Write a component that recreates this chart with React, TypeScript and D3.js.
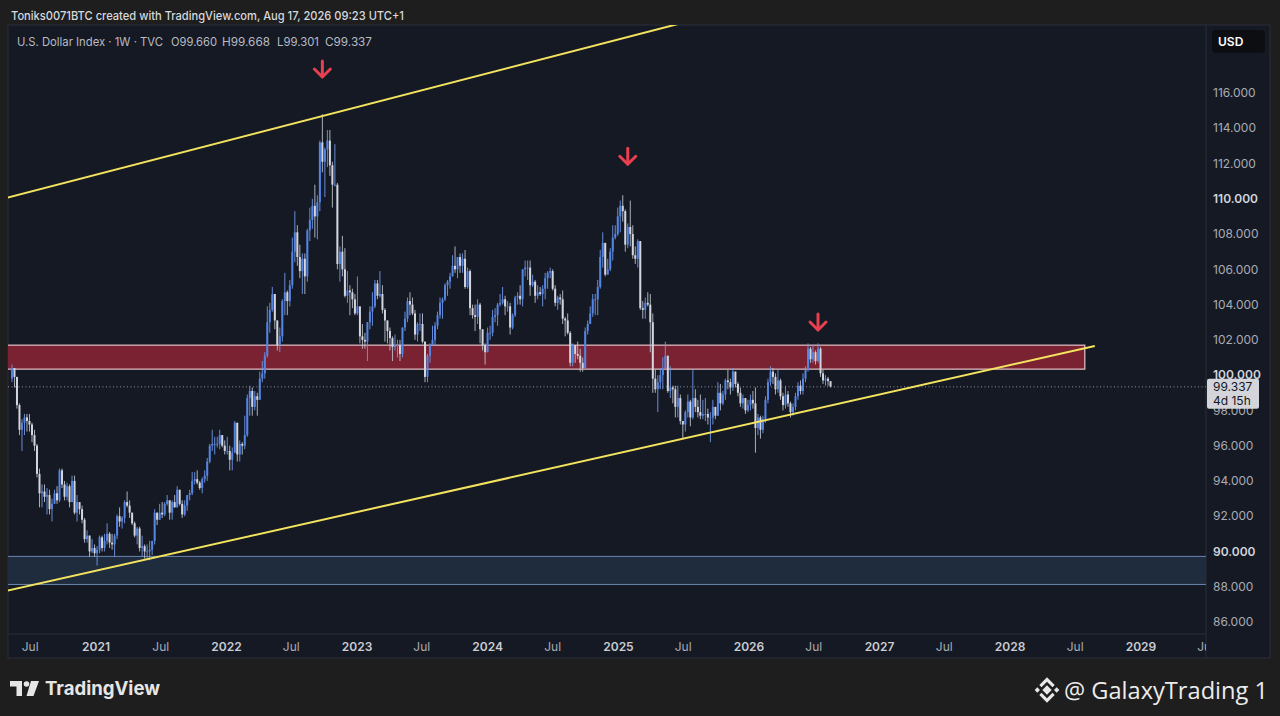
import React from "react";
import * as d3 from "d3";

const W = 1280;
const H = 716;

// ---------- DATA ----------
// weekly candles: [close, high, low]; open = previous close
const firstOpen = 99.8;

const y2020: [number, number, number][] = [
  [100.4, 100.6, 99.6], [99.9, 100.4, 99.3], [98.3, 99.9, 98.1], [96.9, 98.4, 96.6],
  [97.3, 97.5, 95.7], [97.6, 97.8, 96.6], [97.4, 97.8, 96.8], [97.2, 97.8, 96.8],
  [96.6, 97.3, 96.2], [96.0, 96.9, 95.7], [94.4, 96.1, 94.2], [93.3, 94.7, 92.5],
  [93.4, 93.8, 92.5], [93.1, 93.8, 92.8], [93.2, 93.6, 92.1], [92.4, 93.5, 92.1],
  [92.7, 93.0, 91.7], [93.3, 93.5, 92.7], [92.9, 93.7, 92.7], [94.6, 94.7, 92.8],
  [93.8, 94.7, 93.6], [93.1, 94.0, 92.9], [93.7, 93.9, 92.9], [92.8, 93.8, 92.5],
  [94.0, 94.3, 92.8], [92.2, 94.3, 92.1], [92.8, 93.2, 91.7], [92.4, 92.8, 92.1],
  [91.8, 92.6, 91.6], [90.7, 91.9, 90.5], [90.9, 91.2, 90.5], [90.0, 90.9, 89.7],
  [90.2, 90.7, 89.9], [89.9, 90.4, 89.7],
];

const y2021: [number, number, number][] = [
  [90.1, 90.3, 89.2], [90.8, 90.9, 89.9], [90.2, 90.9, 90.0], [90.6, 91.0, 90.0],
  [91.0, 91.6, 90.4], [90.5, 91.1, 90.2], [90.4, 91.0, 90.1], [90.9, 91.0, 89.7],
  [92.0, 92.1, 90.7], [91.7, 92.5, 91.4], [91.9, 92.0, 91.3], [92.8, 92.9, 91.6],
  [92.6, 93.4, 92.5], [92.2, 92.9, 91.9], [91.6, 92.2, 91.5], [90.9, 91.7, 90.8],
  [91.3, 91.4, 90.4], [90.2, 91.4, 90.0], [90.3, 90.9, 89.7], [90.0, 90.4, 89.6],
  [90.0, 90.4, 89.6], [90.1, 90.6, 89.5], [90.6, 90.6, 89.8], [92.2, 92.4, 90.4],
  [91.8, 92.1, 91.5], [92.2, 92.7, 91.8], [92.1, 92.8, 91.9], [92.7, 92.8, 92.0],
  [92.9, 93.2, 92.6], [92.2, 92.9, 91.8], [92.8, 92.9, 91.8], [92.5, 93.2, 92.5],
  [93.5, 93.7, 92.6], [92.7, 93.5, 92.6], [92.1, 92.9, 91.9], [92.6, 92.9, 92.0],
  [93.2, 93.2, 92.3], [93.3, 93.5, 92.9], [94.0, 94.5, 93.2], [94.1, 94.5, 93.8],
  [93.9, 94.6, 93.8], [93.6, 94.0, 93.5], [94.1, 94.2, 93.3], [94.3, 94.6, 93.9],
  [95.1, 95.3, 94.0], [96.0, 96.1, 95.0], [96.1, 96.9, 95.7], [96.1, 96.5, 95.5],
  [96.1, 96.5, 95.9], [96.6, 96.9, 95.8], [96.0, 96.6, 95.9], [95.7, 96.3, 95.5],
];

const y2022: [number, number, number][] = [
  [95.7, 96.5, 95.5], [95.2, 96.0, 94.6], [95.6, 95.9, 94.6], [97.3, 97.4, 95.6],
  [95.5, 97.2, 95.1], [96.1, 96.3, 95.1], [96.0, 96.2, 95.5], [96.6, 97.7, 95.8],
  [98.7, 98.9, 96.5], [99.1, 99.4, 97.7], [98.2, 99.3, 97.7], [98.8, 99.1, 98.0],
  [98.6, 99.0, 97.7], [99.8, 100.2, 98.8], [100.1, 100.8, 99.6], [101.1, 101.3, 99.8],
  [103.0, 103.9, 101.0], [103.7, 104.1, 102.4], [104.6, 105.0, 103.6], [103.1, 104.6, 102.6],
  [101.7, 103.1, 101.4], [102.2, 102.7, 101.3], [104.2, 104.3, 101.9], [104.7, 105.8, 103.4],
  [104.2, 104.8, 103.4], [105.1, 105.4, 103.9], [107.0, 107.8, 104.9], [108.1, 109.3, 106.4],
  [106.7, 108.5, 106.2], [105.9, 107.4, 105.5], [106.6, 106.9, 104.6], [105.6, 106.9, 104.6],
  [108.2, 108.3, 105.3], [108.8, 109.5, 107.6], [109.6, 110.0, 108.3], [109.0, 110.8, 107.8],
  [109.8, 110.2, 107.7], [113.2, 113.3, 109.3], [112.1, 114.8, 111.5], [112.8, 112.9, 110.1],
  [113.3, 113.9, 111.8], [111.9, 113.9, 111.3], [110.8, 112.1, 109.5], [110.8, 113.1, 110.7],
  [106.3, 110.9, 106.0], [107.0, 107.3, 105.3], [106.0, 107.9, 105.6], [104.5, 107.2, 104.4],
  [104.8, 105.9, 104.1], [104.7, 105.1, 103.4], [104.3, 104.9, 103.8], [103.5, 104.6, 103.4],
];

const y2023: [number, number, number][] = [
  [103.9, 105.6, 103.4], [102.2, 103.9, 101.8], [102.0, 102.9, 101.5], [101.9, 102.4, 101.5],
  [103.0, 103.0, 100.8], [103.6, 103.9, 102.6], [103.9, 104.7, 102.8], [105.2, 105.4, 103.8],
  [104.5, 105.4, 104.3], [104.6, 105.9, 104.4], [103.7, 105.1, 103.5], [103.1, 103.8, 101.9],
  [102.5, 103.1, 101.8], [102.1, 102.7, 101.4], [101.6, 102.2, 100.8], [101.7, 102.3, 101.4],
  [101.7, 102.0, 101.0], [101.2, 102.0, 100.8], [102.7, 102.7, 101.0], [103.2, 103.6, 102.5],
  [104.2, 104.4, 103.0], [104.0, 104.7, 103.4], [103.5, 104.4, 103.4], [102.3, 103.7, 102.0],
  [102.9, 103.0, 101.9], [102.9, 103.5, 102.5], [101.9, 103.5, 101.8], [99.9, 101.9, 99.6],
  [101.1, 101.2, 99.6], [101.7, 101.8, 100.7], [102.0, 102.8, 101.7], [102.8, 103.0, 101.7],
  [103.4, 103.6, 102.6], [104.1, 104.4, 103.2], [104.3, 104.4, 103.2], [105.1, 105.2, 104.2],
  [105.3, 105.4, 104.5], [105.6, 105.8, 104.9], [106.2, 106.8, 105.6], [106.0, 107.3, 105.8],
  [106.7, 106.7, 105.5], [106.2, 106.9, 105.8], [106.6, 106.9, 105.8], [105.0, 107.1, 104.9],
  [105.9, 106.1, 104.9], [103.8, 106.0, 103.4], [103.4, 104.0, 103.2], [103.3, 104.0, 102.5],
  [104.0, 104.3, 102.9], [102.6, 104.1, 101.8], [101.7, 102.6, 101.4], [101.3, 101.8, 100.6],
];

const y2024: [number, number, number][] = [
  [102.4, 102.7, 101.3], [102.4, 102.8, 102.0], [103.3, 103.7, 102.2], [103.4, 103.8, 103.0],
  [104.0, 104.1, 102.8], [104.1, 104.6, 103.9], [104.3, 105.0, 104.0], [103.9, 104.5, 103.4],
  [103.9, 104.2, 103.6], [102.7, 104.1, 102.3], [103.4, 103.5, 102.6], [104.4, 104.5, 103.3],
  [104.5, 104.7, 104.0], [104.3, 105.1, 104.0], [106.0, 106.0, 103.9], [106.1, 106.5, 105.6],
  [106.1, 106.5, 105.4], [105.1, 106.5, 104.5], [105.3, 105.7, 105.0], [104.5, 105.4, 104.1],
  [104.7, 105.1, 104.3], [104.6, 105.0, 104.5], [104.9, 105.1, 103.9], [105.5, 105.8, 104.3],
  [105.8, 105.9, 104.9], [105.9, 106.1, 105.5], [104.9, 106.0, 104.8], [104.1, 105.1, 103.9],
  [104.4, 104.5, 103.7], [104.3, 104.6, 104.0], [103.2, 104.8, 102.9], [103.1, 103.3, 102.2],
  [102.4, 103.5, 102.3], [100.7, 102.5, 100.5], [101.7, 101.8, 100.5], [101.2, 101.7, 100.7],
  [101.1, 101.9, 100.9], [100.7, 101.5, 100.2], [100.4, 101.0, 100.2], [102.5, 102.7, 100.4],
  [102.9, 103.1, 102.3], [103.5, 103.9, 102.9], [104.3, 104.6, 103.3], [104.3, 104.6, 103.4],
  [105.0, 105.4, 103.4], [106.7, 107.1, 104.9], [107.5, 108.1, 106.1], [105.7, 107.4, 105.6],
  [106.0, 106.6, 105.7], [107.0, 107.2, 105.9], [107.8, 108.5, 106.5], [108.0, 108.5, 107.7],
  [109.0, 109.5, 107.9],
];

const y2025: [number, number, number][] = [
  [109.6, 109.9, 108.1], [109.3, 110.2, 108.7], [107.4, 109.4, 107.0], [108.4, 108.6, 107.2],
  [108.0, 109.9, 107.3], [106.8, 108.5, 106.6], [106.6, 107.3, 106.3], [107.6, 107.7, 106.1],
  [103.8, 107.6, 103.7], [103.7, 104.2, 103.2], [104.1, 104.4, 103.2], [104.0, 104.7, 103.9],
  [103.0, 104.6, 101.3], [99.8, 103.5, 99.0], [99.2, 100.3, 99.0], [99.6, 100.0, 97.9],
  [100.0, 100.4, 99.2], [100.4, 101.0, 99.2], [101.1, 101.9, 100.4], [99.1, 100.6, 99.0],
  [99.3, 100.5, 98.7], [99.2, 99.4, 98.4], [98.2, 99.4, 97.6], [98.7, 99.4, 97.6],
  [97.4, 98.9, 97.2], [97.2, 97.4, 96.4], [97.9, 98.0, 96.8], [98.5, 98.9, 97.6],
  [97.6, 98.6, 97.1], [98.7, 100.3, 97.5], [98.2, 99.2, 97.9], [97.9, 98.6, 97.6],
  [97.7, 98.9, 97.5], [97.8, 98.6, 97.5], [97.8, 98.7, 97.4], [97.6, 98.1, 97.2],
  [97.6, 97.9, 96.2], [98.2, 98.6, 97.2], [97.7, 98.2, 97.5], [99.0, 99.6, 97.8],
  [98.4, 99.5, 98.0], [98.9, 99.1, 98.3], [99.7, 99.8, 98.6], [99.6, 100.3, 99.2],
  [99.3, 99.8, 98.9], [100.2, 100.4, 99.1], [99.5, 100.2, 99.3], [99.0, 99.6, 98.8],
  [98.4, 99.3, 98.2], [98.7, 98.9, 98.1], [98.0, 98.4, 97.8], [98.3, 98.6, 97.9],
];

const y2026: [number, number, number][] = [
  [98.6, 98.9, 98.0], [98.4, 99.1, 98.1], [97.0, 99.3, 95.6], [97.6, 97.8, 96.6],
  [96.9, 97.7, 96.4], [97.5, 97.7, 96.7], [98.6, 98.8, 97.3], [99.6, 99.8, 98.4],
  [100.2, 100.5, 99.4], [99.9, 100.4, 99.5], [99.2, 100.1, 98.9], [99.7, 100.3, 99.0],
  [98.8, 99.8, 98.6], [98.3, 99.0, 98.0], [98.9, 99.4, 98.1], [98.4, 99.1, 98.2],
  [97.9, 98.5, 97.6], [98.2, 98.4, 97.7], [98.8, 99.0, 98.0], [99.4, 99.6, 98.6],
  [99.1, 99.7, 98.9], [99.8, 100.1, 98.9], [100.3, 100.5, 99.6], [101.5, 101.8, 100.2],
  [100.9, 101.6, 100.7], [101.3, 101.7, 100.7], [100.8, 101.4, 100.6], [101.5, 101.8, 100.7],
  [100.1, 101.6, 99.9], [99.7, 100.3, 99.5], [99.8, 100.0, 99.4], [99.66, 99.9, 99.4],
  [99.337, 99.668, 99.301],
];

const weekBlocks: [string, [number, number, number][]][] = [
  ["2020-05-11", y2020],
  ["2021-01-04", y2021],
  ["2022-01-03", y2022],
  ["2023-01-02", y2023],
  ["2024-01-01", y2024],
  ["2025-01-06", y2025],
  ["2026-01-05", y2026],
];

const priceTicks = [86, 88, 90, 92, 94, 96, 98, 100, 102, 104, 106, 108, 110, 112, 114, 116];
const boldPriceTicks = [90, 100, 110];

const upperTrend: [string, number][] = [["2020-04-27", 110.06], ["2026-05-04", 121.6]];
const lowerTrend: [string, number][] = [["2020-04-27", 87.77], ["2028-08-25", 101.65]];
const resistanceZone = { from: "2020-04-27", to: "2028-07-28", low: 100.34, high: 101.7 };
const supportZone = { from: "2020-04-27", to: "2030-01-01", low: 88.13, high: 89.72 };
const arrowTips: [string, number][] = [["2022-09-26", 116.85], ["2025-01-27", 111.9], ["2026-07-13", 102.5]];

const lastPrice = 99.337;
const countdown = "4d 15h";
const headerText = "Toniks0071BTC created with TradingView.com, Aug 17, 2026 09:23 UTC+1";
const symbolText = "U.S. Dollar Index · 1W · TVC";
const ohlcLabels = ["O99.660", "H99.668", "L99.301", "C99.337"];

// ---------- LAYOUT ----------
const PL = 8, PT = 25, PR = 1206, PB = 634, TB = 658, RR = 1270;
const FONT = "Inter, 'Noto Sans', Roboto, sans-serif";
const ohlcX = [171, 222, 277, 325];
const ohlcW = [46, 48, 42, 47];

const parse = d3.timeParse("%Y-%m-%d");

type Candle = { date: Date; o: number; h: number; l: number; c: number };

function buildCandles(): Candle[] {
  const out: Candle[] = [];
  let prev = firstOpen;
  for (const [start, rows] of weekBlocks) {
    const d0 = parse(start)!;
    rows.forEach((r, i) => {
      const date = d3.timeDay.offset(d0, i * 7);
      const o = prev;
      const c = r[0];
      out.push({ date, o, c, h: Math.max(r[1], o, c), l: Math.min(r[2], o, c) });
      prev = c;
    });
  }
  return out;
}

export default function App() {
  const candles = buildCandles();
  const x = d3.scaleTime().domain([new Date(2021, 0, 1), new Date(2026, 0, 1)]).range([96, 749]);
  const y = d3.scaleLinear().domain([86, 116]).range([622, 93]);

  const timeTicks = d3.timeMonth.every(6)!.range(new Date(2020, 6, 1), new Date(2029, 8, 1));
  const line = d3.line<[string, number]>().x((d) => x(parse(d[0])!)).y((d) => y(d[1]));

  const bodyW = 2;
  const upFill = "#5484e4";
  const upWick = "#7099e8";
  const dnFill = "#d3d6dd";
  const dnWick = "#bcc0c8";
  const arrowColor = "#e8404f";

  const yl = y(lastPrice);

  return (
    <div style={{ position: "absolute", left: 0, top: 0, width: W, height: H, overflow: "hidden" }}>
      <svg width={W} height={H} style={{ display: "block" }} fontFamily={FONT}>
        <defs>
          <clipPath id="pane">
            <rect x={PL} y={PT} width={PR - PL} height={PB - PT} />
          </clipPath>
          <clipPath id="taxis">
            <rect x={PL} y={PB} width={PR - PL} height={TB - PB} />
          </clipPath>
        </defs>
        <rect width={W} height={H} fill="#1e1e1e" />

        {/* header */}
        <text x={11} y={20} fontSize={12} fill="#d6d8dd" fontWeight={500} textLength={393} lengthAdjust="spacingAndGlyphs">
          {headerText}
        </text>

        {/* chart frame */}
        <rect x={PL} y={PT} width={RR - PL} height={TB - PT} fill="#151924" stroke="#2a2e39" />
        <line x1={PR} x2={PR} y1={PT} y2={TB} stroke="#2a2e39" />
        <line x1={PL} x2={PR} y1={PB} y2={PB} stroke="#2a2e39" />

        <g clipPath="url(#pane)">
          {/* support zone */}
          <rect
            x={x(parse(supportZone.from)!)}
            width={x(parse(supportZone.to)!) - x(parse(supportZone.from)!)}
            y={y(supportZone.high)}
            height={y(supportZone.low) - y(supportZone.high)}
            fill="#1f2c3d"
          />
          <line x1={PL} x2={PR} y1={y(supportZone.high)} y2={y(supportZone.high)} stroke="#6a86b2" strokeWidth={1} />
          <line x1={PL} x2={PR} y1={y(supportZone.low)} y2={y(supportZone.low)} stroke="#6a86b2" strokeWidth={1} />

          {/* resistance zone */}
          <rect
            x={x(parse(resistanceZone.from)!)}
            width={x(parse(resistanceZone.to)!) - x(parse(resistanceZone.from)!)}
            y={y(resistanceZone.high)}
            height={y(resistanceZone.low) - y(resistanceZone.high)}
            fill="#7a2231"
            stroke="#e6c4ca"
            strokeWidth={1.2}
          />

          {/* candles */}
          {candles.map((d, i) => {
            const cx = x(d.date);
            const up = d.c >= d.o;
            const top = y(Math.max(d.o, d.c));
            const bot = y(Math.min(d.o, d.c));
            return (
              <g key={i}>
                <line x1={cx} x2={cx} y1={y(d.h)} y2={y(d.l)} stroke={up ? upWick : dnWick} strokeWidth={0.9} />
                <rect
                  x={cx - bodyW / 2}
                  y={top}
                  width={bodyW}
                  height={Math.max(0.8, bot - top)}
                  fill={up ? upFill : dnFill}
                />
              </g>
            );
          })}

          {/* last price dotted line */}
          <line x1={PL} x2={PR} y1={yl} y2={yl} stroke="#8d919b" strokeWidth={1} strokeDasharray="1 2.5" />

          {/* trend lines */}
          <path d={line(upperTrend) || ""} stroke="#f3e35f" strokeWidth={2} fill="none" />
          <path d={line(lowerTrend) || ""} stroke="#f3e35f" strokeWidth={2} fill="none" />

          {/* arrows */}
          {arrowTips.map((a, i) => {
            const ax = x(parse(a[0])!);
            const ay = y(a[1]);
            return (
              <g key={i} stroke={arrowColor} strokeWidth={3} fill="none" strokeLinecap="round" strokeLinejoin="round">
                <line x1={ax} x2={ax} y1={ay - 17} y2={ay - 1.5} />
                <polyline points={`${ax - 8},${ay - 9} ${ax},${ay - 1} ${ax + 8},${ay - 9}`} />
              </g>
            );
          })}
        </g>

        {/* legend */}
        <text x={17} y={46} fontSize={12} fill="#b8bbc3" textLength={146} lengthAdjust="spacingAndGlyphs">
          {symbolText}
        </text>
        {ohlcLabels.map((t, i) => (
          <text
            key={t}
            x={ohlcX[i]}
            y={46}
            fontSize={12}
            fill="#b8bbc3"
            textLength={ohlcW[i]}
            lengthAdjust="spacingAndGlyphs"
          >
            {t}
          </text>
        ))}

        {/* price axis */}
        <rect x={1212} y={30} width={53} height={23} rx={4} fill="#0d0e12" />
        <text x={1218} y={46} fontSize={12} fontWeight={600} fill="#ffffff">
          USD
        </text>
        {priceTicks.map((p) => (
          <text
            key={p}
            x={1213}
            y={y(p)}
            dy="0.35em"
            fontSize={12}
            fill={boldPriceTicks.includes(p) ? "#d1d4dc" : "#a9acb5"}
            fontWeight={boldPriceTicks.includes(p) ? 600 : 400}
          >
            {d3.format(".3f")(p)}
          </text>
        ))}
        <rect x={1207} y={yl - 8} width={52} height={30} rx={2} fill="#d3d5da" />
        <text x={1213} y={yl} dy="0.35em" fontSize={12} fill="#131722">
          {d3.format(".3f")(lastPrice)}
        </text>
        <text x={1213} y={yl + 14} dy="0.35em" fontSize={12} fill="#131722">
          {countdown}
        </text>

        {/* time axis */}
        <g clipPath="url(#taxis)">
          {timeTicks.map((t, i) => {
            const isYear = t.getMonth() === 0;
            return (
              <text
                key={i}
                x={x(t)}
                y={647}
                dy="0.35em"
                textAnchor="middle"
                fontSize={12}
                fontWeight={isYear ? 600 : 400}
                fill={isYear ? "#c9ccd3" : "#a9acb5"}
              >
                {isYear ? d3.timeFormat("%Y")(t) : d3.timeFormat("%b")(t)}
              </text>
            );
          })}
        </g>

        {/* TradingView logo */}
        <g fill="#e6e6e6">
          <path d="M10,681 H22 V696 H16.5 V686.5 H10 Z" />
          <circle cx={26.5} cy={684} r={2.8} />
          <path d="M31,681 H39 L33.5,696 H26.5 Z" />
        </g>
        <text x={45} y={695} fontSize={19} fontWeight={700} fill="#e6e6e6" textLength={115} lengthAdjust="spacingAndGlyphs">
          TradingView
        </text>

        {/* watermark */}
        <g fill="#e8e8e8" transform="translate(1047,690) scale(1.1)">
          <rect x={-3} y={-3} width={6} height={6} transform="rotate(45)" />
          <rect x={-10.5} y={-1.7} width={3.4} height={3.4} transform="rotate(45 -8.8 0)" />
          <rect x={7.1} y={-1.7} width={3.4} height={3.4} transform="rotate(45 8.8 0)" />
          <path d="M-7,-4.5 L0,-11.5 L7,-4.5 L5,-2.5 L0,-7.5 L-5,-2.5 Z" />
          <path d="M-7,4.5 L0,11.5 L7,4.5 L5,2.5 L0,7.5 L-5,2.5 Z" />
        </g>
        <text
          x={1064}
          y={699}
          fontSize={23}
          fill="#ececec"
          fontFamily="'Open Sans', 'Noto Sans', sans-serif"
          textLength={204}
          lengthAdjust="spacingAndGlyphs"
        >
          @ GalaxyTrading 1
        </text>
      </svg>
    </div>
  );
}
